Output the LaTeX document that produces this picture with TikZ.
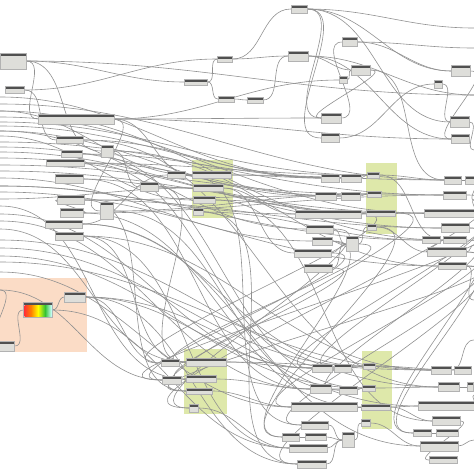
\documentclass[tikz,border=0pt]{standalone}
\pgfdeclarelayer{groups}
\pgfdeclarelayer{wires}
\pgfsetlayers{groups,wires,main}

\definecolor{grpgreen}{RGB}{222,232,170}
\definecolor{grporange}{RGB}{251,220,198}
\definecolor{nodebody}{RGB}{222,222,218}
\definecolor{nodehead}{RGB}{80,80,80}
\definecolor{wiregray}{RGB}{145,145,145}

\begin{document}
\begin{tikzpicture}[x=1pt, y=-1pt]

    % Styles — graph editor look
    \tikzstyle{dnode} = [draw=gray!60, fill=nodebody, line width=0.3pt, inner sep=0pt,
        path picture={\fill[nodehead] (path picture bounding box.north west)
            rectangle ([yshift=-2.8pt]path picture bounding box.north east);}]
    \tikzstyle{wire} = [draw=wiregray, line width=0.6pt, out=0, in=180]

    \useasboundingbox (0,0) rectangle (474,474);

    % Groups
    \begin{pgfonlayer}{groups}
        \fill[grporange] (0,278) rectangle (87,352);
        \fill[grpgreen] (192,160) rectangle (233,218);
        \fill[grpgreen] (366,163) rectangle (397,234);
        \fill[grpgreen] (184,349) rectangle (227,414);
        \fill[grpgreen] (362,351) rectangle (392,429);
    \end{pgfonlayer}

    % Top row
    \node[dnode, minimum width=16pt, minimum height=8pt] (t1) at (299,9) {};
    \node[dnode, minimum width=20pt, minimum height=10pt] (t2) at (298,56) {};
    \node[dnode, minimum width=15pt, minimum height=6pt] (t3) at (225,59) {};
    \node[dnode, minimum width=23pt, minimum height=6pt] (t4) at (196,82) {};
    \node[dnode, minimum width=16pt, minimum height=6pt] (t5) at (226,99) {};
    \node[dnode, minimum width=16pt, minimum height=6pt] (t6) at (255,100) {};
    \node[dnode, minimum width=15pt, minimum height=9pt] (t7) at (350,42) {};
    \node[dnode, minimum width=19pt, minimum height=10pt] (t8) at (361,70) {};
    \node[dnode, minimum width=8pt, minimum height=7pt] (t9) at (343,80) {};
    \node[dnode, minimum width=8pt, minimum height=8pt] (t10) at (438,84) {};
    \node[dnode, minimum width=19pt, minimum height=11pt] (t11) at (461,71) {};

    % Left column (inputs)
    \node[dnode, minimum width=26pt, minimum height=16pt] (l1) at (13,61) {};
    \node[dnode, minimum width=19pt, minimum height=7pt] (l2) at (15,90) {};
    \node[dnode, minimum width=76pt, minimum height=10pt] (l3) at (76,119) {};
    \node[dnode, minimum width=27pt, minimum height=7pt] (l4) at (70,140) {};
    \node[dnode, minimum width=21pt, minimum height=7pt] (l5) at (72,154) {};
    \node[dnode, minimum width=12pt, minimum height=12pt] (l6) at (107,151) {};
    \node[dnode, minimum width=38pt, minimum height=7pt] (l7) at (65,163) {};
    \node[dnode, minimum width=28pt, minimum height=9pt] (l8) at (69,179) {};
    \node[dnode, minimum width=27pt, minimum height=9pt] (l9) at (71,200) {};
    \node[dnode, minimum width=23pt, minimum height=9pt] (l10) at (72,213) {};
    \node[dnode, minimum width=37pt, minimum height=8pt] (l11) at (64,224) {};
    \node[dnode, minimum width=28pt, minimum height=8pt] (l12) at (69,236) {};
    \node[dnode, minimum width=13pt, minimum height=17pt] (l13) at (107,211) {};
    \node[dnode, minimum width=18pt, minimum height=9pt] (l14) at (149,187) {};
    \node[dnode, minimum width=18pt, minimum height=7pt] (l15) at (176,175) {};

    % Colour range group (orange)
    \node[dnode, minimum width=29pt, minimum height=15pt] (o1) at (38,310) {};
    \shade[left color=red!80, right color=orange] (24.5,305.5) rectangle (31,316.5);
    \shade[left color=orange, right color=yellow] (31,305.5) rectangle (38,316.5);
    \shade[left color=yellow, right color=green!70!black!80] (38,305.5) rectangle (45,316.5);
    \shade[left color=green!70!black!80, right color=cyan!20] (45,305.5) rectangle (51.5,316.5);
    \node[dnode, minimum width=21pt, minimum height=10pt] (o2) at (75,297) {};
    \node[dnode, minimum width=15pt, minimum height=10pt] (o3) at (7,346) {};

    % Green group A
    \node[dnode, minimum width=39pt, minimum height=7pt] (a1) at (212,175) {};
    \node[dnode, minimum width=30pt, minimum height=7pt] (a2) at (208,188) {};
    \node[dnode, minimum width=22pt, minimum height=7pt] (a3) at (204,200) {};
    \node[dnode, minimum width=10pt, minimum height=7pt] (a4) at (198,212) {};

    % Middle cluster (upper)
    \node[dnode, minimum width=20pt, minimum height=10pt] (m1) at (331,118) {};
    \node[dnode, minimum width=18pt, minimum height=9pt] (m2) at (330,138) {};
    \node[dnode, minimum width=18pt, minimum height=8pt] (m3) at (330,178) {};
    \node[dnode, minimum width=20pt, minimum height=8pt] (m4) at (351,178) {};
    \node[dnode, minimum width=21pt, minimum height=8pt] (m5) at (326,196) {};
    \node[dnode, minimum width=19pt, minimum height=8pt] (m6) at (351,196) {};
    \node[dnode, minimum width=66pt, minimum height=8pt] (m7) at (328,214) {};
    \node[dnode, minimum width=27pt, minimum height=8pt] (m8) at (320,229) {};
    \node[dnode, minimum width=20pt, minimum height=8pt] (m9) at (322,241) {};
    \node[dnode, minimum width=37pt, minimum height=8pt] (m10) at (313,253) {};
    \node[dnode, minimum width=28pt, minimum height=8pt] (m11) at (318,268) {};
    \node[dnode, minimum width=12pt, minimum height=15pt] (m12) at (352,244) {};

    % Green group B
    \node[dnode, minimum width=12pt, minimum height=6pt] (b1) at (373,175) {};
    \node[dnode, minimum width=14pt, minimum height=6pt] (b2) at (374,194) {};
    \node[dnode, minimum width=29pt, minimum height=6pt] (b3) at (381,213) {};
    \node[dnode, minimum width=9pt, minimum height=6pt] (b4) at (372,227) {};

    % Right cluster (upper)
    \node[dnode, minimum width=19pt, minimum height=11pt] (r1) at (460,122) {};
    \node[dnode, minimum width=18pt, minimum height=9pt] (r2) at (460,139) {};
    \node[dnode, minimum width=17pt, minimum height=8pt] (r3) at (453,180) {};
    \node[dnode, minimum width=9pt, minimum height=8pt] (r4) at (470,180) {};
    \node[dnode, minimum width=23pt, minimum height=8pt] (r5) at (455,195) {};
    \node[dnode, minimum width=50pt, minimum height=8pt] (r6) at (449,213) {};
    \node[dnode, minimum width=28pt, minimum height=9pt] (r7) at (455,228) {};
    \node[dnode, minimum width=18pt, minimum height=7pt] (r8) at (431,240) {};
    \node[dnode, minimum width=23pt, minimum height=7pt] (r9) at (455,240) {};
    \node[dnode, minimum width=39pt, minimum height=9pt] (r10) at (447,252) {};
    \node[dnode, minimum width=28pt, minimum height=7pt] (r11) at (452,266) {};

    % Green group C and its inputs
    \node[dnode, minimum width=40pt, minimum height=8pt] (c1) at (206,362) {};
    \node[dnode, minimum width=30pt, minimum height=7pt] (c2) at (201,379) {};
    \node[dnode, minimum width=26pt, minimum height=6pt] (c3) at (199,391) {};
    \node[dnode, minimum width=9pt, minimum height=8pt] (c4) at (194,408) {};
    \node[dnode, minimum width=18pt, minimum height=7pt] (c5) at (170,363) {};
    \node[dnode, minimum width=19pt, minimum height=8pt] (c6) at (172,380) {};

    % Middle cluster (lower)
    \node[dnode, minimum width=20pt, minimum height=8pt] (n1) at (322,368) {};
    \node[dnode, minimum width=17pt, minimum height=8pt] (n2) at (343,368) {};
    \node[dnode, minimum width=21pt, minimum height=9pt] (n3) at (321,389) {};
    \node[dnode, minimum width=18pt, minimum height=8pt] (n4) at (348,390) {};
    \node[dnode, minimum width=66pt, minimum height=9pt] (n5) at (324,407) {};
    \node[dnode, minimum width=27pt, minimum height=8pt] (n6) at (315,425) {};
    \node[dnode, minimum width=21pt, minimum height=7pt] (n7) at (316,437) {};
    \node[dnode, minimum width=17pt, minimum height=8pt] (n8) at (291,437) {};
    \node[dnode, minimum width=38pt, minimum height=8pt] (n9) at (308,448) {};
    \node[dnode, minimum width=29pt, minimum height=8pt] (n10) at (312,464) {};
    \node[dnode, minimum width=12pt, minimum height=15pt] (n11) at (348,440) {};

    % Green group D
    \node[dnode, minimum width=12pt, minimum height=6pt] (d1) at (369,366) {};
    \node[dnode, minimum width=13pt, minimum height=6pt] (d2) at (369,388) {};
    \node[dnode, minimum width=29pt, minimum height=6pt] (d3) at (376,407) {};
    \node[dnode, minimum width=9pt, minimum height=7pt] (d4) at (366,423) {};

    % Right cluster (lower)
    \node[dnode, minimum width=20pt, minimum height=8pt] (s1) at (441,370) {};
    \node[dnode, minimum width=17pt, minimum height=8pt] (s2) at (463,370) {};
    \node[dnode, minimum width=21pt, minimum height=9pt] (s3) at (449,387) {};
    \node[dnode, minimum width=6pt, minimum height=9pt] (s4) at (470,387) {};
    \node[dnode, minimum width=56pt, minimum height=9pt] (s5) at (446,406) {};
    \node[dnode, minimum width=28pt, minimum height=9pt] (s6) at (446,421) {};
    \node[dnode, minimum width=18pt, minimum height=7pt] (s7) at (422,433) {};
    \node[dnode, minimum width=22pt, minimum height=7pt] (s8) at (447,433) {};
    \node[dnode, minimum width=38pt, minimum height=10pt] (s9) at (439,446) {};
    \node[dnode, minimum width=28pt, minimum height=7pt] (s10) at (443,460) {};

    % Free wire ends on the left and right edges
    \coordinate (lw1) at (0,97);   \coordinate (lw2) at (0,104);
    \coordinate (lw3) at (0,111);  \coordinate (lw4) at (0,122);
    \coordinate (lw5) at (0,131);  \coordinate (lw6) at (0,142);
    \coordinate (lw7) at (0,152);  \coordinate (lw8) at (0,171);
    \coordinate (lw9) at (0,186);  \coordinate (lw10) at (0,199);
    \coordinate (lw11) at (0,214); \coordinate (lw12) at (0,229);
    \coordinate (lw13) at (0,248); \coordinate (lw14) at (0,262);
    \coordinate (lw15) at (0,272); \coordinate (lw16) at (0,290);
    \coordinate (lw17) at (0,117); \coordinate (lw18) at (0,126);
    \coordinate (lw19) at (0,136); \coordinate (lw20) at (0,147);
    \coordinate (lw21) at (0,158); \coordinate (lw22) at (0,165);
    \coordinate (lw23) at (0,178); \coordinate (lw24) at (0,192);
    \coordinate (lw25) at (0,206); \coordinate (lw26) at (0,221);
    \coordinate (lw27) at (0,240); \coordinate (lw28) at (0,256);
    \coordinate (rw1) at (474,28);  \coordinate (rw2) at (474,48);
    \coordinate (rw3) at (474,95);  \coordinate (rw4) at (474,150);
    \coordinate (rw5) at (474,200); \coordinate (rw6) at (474,245);
    \coordinate (rw7) at (474,300); \coordinate (rw8) at (474,340);
    \coordinate (rw9) at (474,395); \coordinate (rw10) at (474,440);

    % Wires
    \begin{pgfonlayer}{wires}
        % top chain
        \draw[wire] (l1.east) to (t4.west);
        \draw[wire] (l2.east) to (t3.west);
        \draw[wire] (t4.east) to (t3.west);
        \draw[wire] (t4.east) to (t5.west);
        \draw[wire] (t3.east) to (t1.west);
        \draw[wire] (t3.east) to (t2.west);
        \draw[wire] (t5.east) to (t6.west);
        \draw[wire] (t6.east) to (t2.west);
        \draw[wire] (t1.east) to (rw1);
        \draw[wire] (t1.east) to (t11.west);
        \draw[wire] (t1.east) to (r1.west);
        \draw[wire] (t1.east) to (m1.west);
        \draw[wire] (t1.east) to (m2.west);
        \draw[wire] (t2.east) to (t8.west);
        \draw[wire] (t2.east) to (rw3);
        \draw[wire] (t2.east) to (r2.west);
        \draw[wire] (t7.east) to (rw2);
        \draw[wire] (t7.east) to (t11.west);
        \draw[wire] (t9.east) to (t8.west);
        \draw[wire] (t8.east) to (m1.west);
        \draw[wire] (t8.east) to (r3.west);
        \draw[wire] (t10.east) to (r1.west);
        \draw[wire] (t11.east) to (r2.west);
        \draw[wire] (m1.east) to (t7.west);
        \draw[wire] (m2.east) to (t10.west);
        % left inputs
        \draw[wire] (l1.east) to (l3.west);
        \draw[wire] (l1.east) to (l6.west);
        \draw[wire] (l2.east) to (l4.west);
        \draw[wire] (l1.east) to (rw3);
        \draw[wire] (l3.east) to (t9.west);
        \draw[wire] (l3.east) to (m1.west);
        \draw[wire] (l3.east) to (r2.west);
        \draw[wire] (l3.east) to (a1.west);
        \draw[wire] (l3.east) to (l13.west);
        \draw[wire] (l4.east) to (m3.west);
        \draw[wire] (l5.east) to (m4.west);
        \draw[wire] (l6.east) to (l14.west);
        \draw[wire] (l7.east) to (b1.west);
        \draw[wire] (l8.east) to (a2.west);
        \draw[wire] (l9.east) to (m5.west);
        \draw[wire] (l10.east) to (r5.west);
        \draw[wire] (l11.east) to (l15.west);
        \draw[wire] (l12.east) to (c1.west);
        \draw[wire] (l13.east) to (b2.west);
        \draw[wire] (l14.east) to (b3.west);
        \draw[wire] (l15.east) to (a1.west);
        \draw[wire] (l8.east) to (n3.west);
        \draw[wire] (l11.east) to (d1.west);
        \draw[wire] (l12.east) to (s1.west);
        \draw[wire] (l9.east) to (r7.west);
        \draw[wire] (l7.east) to (m6.west);
        \draw[wire] (l10.east) to (l9.west);
        \draw[wire] (l7.east) to (n2.west);
        \draw[wire] (l9.east) to (c3.west);
        \draw[wire] (l10.east) to (d3.west);
        \draw[wire] (l11.east) to (s9.west);
        \draw[wire] (l12.east) to (n9.west);
        \draw[wire] (l4.east) to (s3.west);
        \draw[wire] (l5.east) to (d2.west);
        \draw[wire] (l13.east) to (n4.west);
        \draw[wire] (l14.east) to (c1.west);
        \draw[wire] (l15.east) to (n6.west);
        \draw[wire] (l6.east) to (r11.west);
        % from the left edge
        \draw[wire] (lw1) to (m3.west);
        \draw[wire] (lw2) to (r3.west);
        \draw[wire] (lw3) to (a1.west);
        \draw[wire] (lw4) to (b1.west);
        \draw[wire] (lw5) to (m5.west);
        \draw[wire] (lw6) to (r5.west);
        \draw[wire] (lw7) to (b3.west);
        \draw[wire] (lw8) to (r6.west);
        \draw[wire] (lw9) to (m7.west);
        \draw[wire] (lw10) to (a2.west);
        \draw[wire] (lw11) to (n1.west);
        \draw[wire] (lw12) to (c1.west);
        \draw[wire] (lw13) to (d1.west);
        \draw[wire] (lw14) to (s1.west);
        \draw[wire] (lw15) to (n5.west);
        \draw[wire] (lw16) to (c6.west);
        \draw[wire] (lw3) to (r9.west);
        \draw[wire] (lw5) to (m8.west);
        \draw[wire] (lw9) to (r8.west);
        \draw[wire] (lw17) to (r6.west);
        \draw[wire] (lw18) to (m4.west);
        \draw[wire] (lw19) to (a3.west);
        \draw[wire] (lw20) to (m6.west);
        \draw[wire] (lw21) to (r7.west);
        \draw[wire] (lw22) to (b2.west);
        \draw[wire] (lw23) to (m9.west);
        \draw[wire] (lw24) to (r11.west);
        \draw[wire] (lw25) to (c2.west);
        \draw[wire] (lw26) to (n3.west);
        \draw[wire] (lw27) to (s3.west);
        \draw[wire] (lw28) to (d2.west);
        % group A and middle cluster
        \draw[wire] (a1.east) to (m3.west);
        \draw[wire] (a1.east) to (r3.west);
        \draw[wire] (a2.east) to (m7.west);
        \draw[wire] (a3.east) to (b3.west);
        \draw[wire] (a4.east) to (r8.west);
        \draw[wire] (a2.east) to (m10.west);
        \draw[wire] (a3.east) to (s6.west);
        \draw[wire] (a4.east) to (n10.west);
        \draw[wire] (m3.east) to (b1.west);
        \draw[wire] (m4.east) to (b1.west);
        \draw[wire] (m5.east) to (b2.west);
        \draw[wire] (m6.east) to (b2.west);
        \draw[wire] (m7.east) to (b3.west);
        \draw[wire] (m8.east) to (m12.west);
        \draw[wire] (m9.east) to (m12.west);
        \draw[wire] (m10.east) to (m12.west);
        \draw[wire] (m11.east) to (m12.west);
        \draw[wire] (m12.east) to (b4.west);
        \draw[wire] (b1.east) to (r3.west);
        \draw[wire] (b2.east) to (r5.west);
        \draw[wire] (b3.east) to (r6.west);
        \draw[wire] (b4.east) to (r10.west);
        \draw[wire] (b1.east) to (r9.west);
        \draw[wire] (r3.east) to (r4.west);
        \draw[wire] (r4.east) to (rw5);
        \draw[wire] (r6.east) to (rw5);
        \draw[wire] (r10.east) to (rw6);
        \draw[wire] (r1.east) to (rw4);
        \draw[wire] (r8.east) to (r10.west);
        % loops back to the lower part
        \draw[wire] (m7.east) to (c5.west);
        \draw[wire] (m10.east) to (c6.west);
        \draw[wire] (m11.east) to (c2.west);
        \draw[wire] (r6.east) to (n1.west);
        \draw[wire] (r6.east) to (n2.west);
        \draw[wire] (r10.east) to (n5.west);
        \draw[wire] (r11.east) to (n6.west);
        \draw[wire] (r9.east) to (n4.west);
        \draw[wire] (r7.east) to (s7.west);
        \draw[wire] (b3.east) to (c3.west);
        \draw[wire] (m9.east) to (n8.west);
        \draw[wire] (r5.east) to (c4.west);
        \draw[wire] (r7.east) to (c6.west);
        \draw[wire] (r11.east) to (c3.west);
        \draw[wire] (m8.east) to (c4.west);
        \draw[wire] (b4.east) to (n8.west);
        \draw[wire] (m12.east) to (c1.west);
        \draw[wire] (r11.east) to (n10.west);
        \draw[wire] (r10.east) to (s7.west);
        % orange group
        \draw[wire] (o3.east) to (o1.west);
        \draw[wire] (o1.east) to (o2.west);
        \draw[wire] (o1.east) to (n9.west);
        \draw[wire] (o2.east) to (c5.west);
        \draw[wire] (o2.east) to (n1.west);
        \draw[wire] (o2.east) to (s5.west);
        \draw[wire] (o2.east) to (n10.west);
        \draw[wire] (lw16) to (o3.west);
        % group C, lower middle, group D
        \draw[wire] (c5.east) to (c1.west);
        \draw[wire] (c6.east) to (c2.west);
        \draw[wire] (c1.east) to (n1.west);
        \draw[wire] (c1.east) to (s1.west);
        \draw[wire] (c2.east) to (n3.west);
        \draw[wire] (c3.east) to (n5.west);
        \draw[wire] (c4.east) to (n9.west);
        \draw[wire] (n1.east) to (d1.west);
        \draw[wire] (n2.east) to (d1.west);
        \draw[wire] (n3.east) to (d2.west);
        \draw[wire] (n4.east) to (d2.west);
        \draw[wire] (n5.east) to (d3.west);
        \draw[wire] (n6.east) to (n11.west);
        \draw[wire] (n7.east) to (n11.west);
        \draw[wire] (n8.east) to (n7.west);
        \draw[wire] (n9.east) to (n11.west);
        \draw[wire] (n10.east) to (n11.west);
        \draw[wire] (n11.east) to (d4.west);
        \draw[wire] (d1.east) to (s1.west);
        \draw[wire] (d1.east) to (s2.west);
        \draw[wire] (d2.east) to (s3.west);
        \draw[wire] (d3.east) to (s5.west);
        \draw[wire] (d4.east) to (s9.west);
        \draw[wire] (d3.east) to (s6.west);
        \draw[wire] (s3.east) to (s4.west);
        \draw[wire] (s7.east) to (s8.west);
        \draw[wire] (s1.east) to (rw8);
        \draw[wire] (s5.east) to (rw9);
        \draw[wire] (s9.east) to (rw10);
        \draw[wire] (r11.east) to (rw7);
        \draw[wire] (s6.east) to (s10.west);
    \end{pgfonlayer}

\end{tikzpicture}
\end{document}
